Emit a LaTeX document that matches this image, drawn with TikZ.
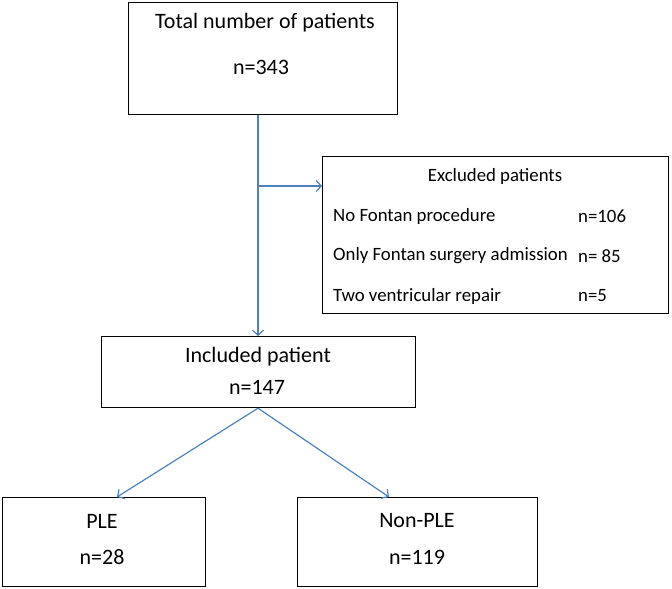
\documentclass[tikz,border=0pt]{standalone}
\usepackage{fontspec}
\setmainfont{Carlito}
\usetikzlibrary{arrows.meta}

\definecolor{flowblue}{RGB}{79,129,189}

\tikzset{
  box/.style={draw, line width=1.2pt, inner sep=0pt, anchor=north west},
  bigtxt/.style={font=\fontsize{22}{26}\selectfont, inner sep=0pt},
  smalltxt/.style={font=\fontsize{18.8}{23}\selectfont, inner sep=0pt},
  flow/.style={draw=flowblue, line width=1.2pt, -{Straight Barb[length=5pt,width=11pt]}}
}

\begin{document}
\begin{tikzpicture}[x=1pt,y=-1pt]
  \useasboundingbox (0,0) rectangle (672,589);

  % boxes
  \node[box, minimum width=269pt, minimum height=112pt] (total) at (128,2) {};
  \node[box, minimum width=346pt, minimum height=157pt] (excl) at (322,156) {};
  \node[box, minimum width=314pt, minimum height=71pt] (incl) at (101,336) {};
  \node[box, minimum width=203pt, minimum height=89pt] (ple) at (2,497) {};
  \node[box, minimum width=240pt, minimum height=89pt] (nonple) at (297,497) {};

  % texts
  \node[bigtxt] (totaltitle) at (265,23) {Total number of patients};
  \node[bigtxt] (totaln) at (261,67) {n=343};

  \node[smalltxt] (excltitle) at (495,176) {Excluded patients};
  \node[smalltxt, anchor=west] (reasonA) at (333,216) {No Fontan procedure};
  \node[smalltxt, anchor=west] (reasonB) at (333,256) {Only Fontan surgery admission};
  \node[smalltxt, anchor=west] (reasonC) at (333,296) {Two ventricular repair};
  \node[smalltxt, anchor=west] (countA) at (578,216) {n=106};
  \node[smalltxt, anchor=west] (countB) at (578,256) {n= 85};
  \node[smalltxt, anchor=west] (countC) at (578,296) {n=5};

  \node[bigtxt] (incltitle) at (258,357) {Included patient};
  \node[bigtxt] (incln) at (257,387) {n=147};

  \node[bigtxt] (pletitle) at (102,521) {PLE};
  \node[bigtxt] (plen) at (102,557) {n=28};
  \node[bigtxt] (nonpletitle) at (417,521) {Non-PLE};
  \node[bigtxt] (nonplen) at (417,557) {n=119};

  % connectors
  \coordinate (split) at (258,186);
  \draw[flow] (total.south -| split) -- (incl.north -| split);
  \draw[flow] (split) -- (excl.west |- split);
  \draw[flow] (incl.south -| split) -- (ple.north -| 117,0);
  \draw[flow] (incl.south -| split) -- (nonple.north -| 389,0);
\end{tikzpicture}
\end{document}
